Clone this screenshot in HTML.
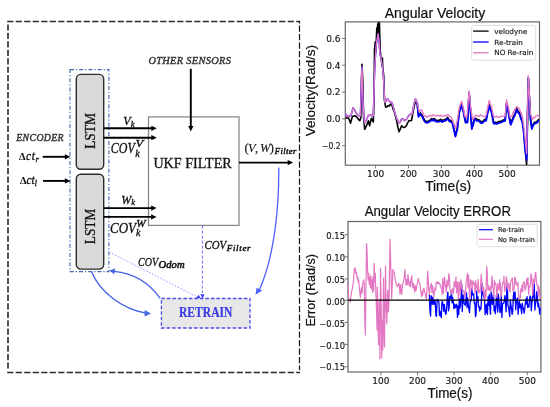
<!DOCTYPE html>
<html><head><meta charset="utf-8"><style>
html,body{margin:0;padding:0;background:#fff;}
svg{display:block;}
.sr{font-family:"Liberation Serif",serif;stroke:#111;stroke-width:0.3px;}
.si{font-family:"Liberation Serif",serif;font-style:italic;stroke:#111;stroke-width:0.3px;}
.sbi{font-family:"Liberation Serif",serif;font-style:italic;font-weight:bold;}
.sb{font-family:"Liberation Serif",serif;font-weight:bold;}
.ss{font-family:"Liberation Sans",sans-serif;stroke:#111;stroke-width:0.2px;}
.dv{font-family:"DejaVu Sans",sans-serif;stroke:#222;stroke-width:0.15px;}
text{fill:#111;}
.blue{fill:#3a3ae8;stroke:#3a3ae8;stroke-width:0.2px;}
</style></head><body>
<svg width="550" height="407" viewBox="0 0 550 407">
<defs>
<clipPath id="c1"><rect x="345.3" y="21.9" width="194.2" height="143.29999999999998"/></clipPath>
<clipPath id="c2"><rect x="348.0" y="221.5" width="192.89999999999998" height="150.5"/></clipPath>
</defs>
<rect width="550" height="407" fill="#fff"/>
<line x1="7.2" y1="21.6" x2="300" y2="21.6" stroke="#2a2a2a" stroke-width="1.5" stroke-dasharray="6.2 2.3"/>
<line x1="7.2" y1="372.6" x2="300" y2="372.6" stroke="#2a2a2a" stroke-width="1.5" stroke-dasharray="6.2 2.3"/>
<line x1="8" y1="24.4" x2="8" y2="370" stroke="#4a4a4a" stroke-width="1.9" stroke-dasharray="6.2 2.25"/>
<line x1="299.5" y1="21" x2="299.5" y2="23.6" stroke="#111" stroke-width="1.2"/>
<line x1="299.5" y1="25.5" x2="299.5" y2="370" stroke="#111" stroke-width="1.2" stroke-dasharray="6.2 2.3"/>
<rect x="70" y="69.6" width="38.9" height="202" fill="none" stroke="#4566b2" stroke-width="1.1" stroke-dasharray="4 2 1.2 2"/>
<rect x="76.3" y="74.4" width="27.4" height="94.8" rx="4.5" fill="#d9d9d9" stroke="#2b2b2b" stroke-width="1.4"/>
<rect x="76.3" y="174.3" width="27.4" height="94.8" rx="4.5" fill="#d9d9d9" stroke="#2b2b2b" stroke-width="1.4"/>
<text class="sr" transform="translate(95.4,131) rotate(-90)" text-anchor="middle" font-size="14" textLength="35.7" lengthAdjust="spacingAndGlyphs">LSTM</text>
<text class="sr" transform="translate(95.4,226.5) rotate(-90)" text-anchor="middle" font-size="14" textLength="35.4" lengthAdjust="spacingAndGlyphs">LSTM</text>
<rect x="148.5" y="116.9" width="90.5" height="108.5" fill="#fff" stroke="#858585" stroke-width="1.25"/>
<text class="sr" x="153.4" y="168.2" font-size="15" textLength="78.4" lengthAdjust="spacingAndGlyphs">UKF FILTER</text>
<line x1="103.5" y1="128.3" x2="151.8" y2="128.3" stroke="#000" stroke-width="1.9"/>
<polygon points="156.8,128.3 151.3,125.70000000000002 151.3,130.9" fill="#000"/>
<line x1="103.5" y1="137.7" x2="151.8" y2="137.7" stroke="#000" stroke-width="1.9"/>
<polygon points="156.8,137.7 151.3,135.1 151.3,140.29999999999998" fill="#000"/>
<line x1="103.5" y1="208.1" x2="151.6" y2="208.1" stroke="#000" stroke-width="1.9"/>
<polygon points="156.6,208.1 151.1,205.5 151.1,210.7" fill="#000"/>
<line x1="103.5" y1="216.9" x2="151.6" y2="216.9" stroke="#000" stroke-width="1.9"/>
<polygon points="156.6,216.9 151.1,214.3 151.1,219.5" fill="#000"/>
<line x1="42.7" y1="156.8" x2="65.4" y2="156.8" stroke="#000" stroke-width="1.9"/>
<polygon points="70.4,156.8 64.9,154.20000000000002 64.9,159.4" fill="#000"/>
<line x1="43.0" y1="180.9" x2="65.4" y2="180.9" stroke="#000" stroke-width="1.9"/>
<polygon points="70.4,180.9 64.9,178.3 64.9,183.5" fill="#000"/>
<line x1="190.8" y1="68.8" x2="190.8" y2="126.60000000000001" stroke="#000" stroke-width="1.9"/>
<polygon points="190.8,131.4 188.20000000000002,126.10000000000001 193.4,126.10000000000001" fill="#000"/>
<line x1="239" y1="162.6" x2="288.2" y2="162.6" stroke="#000" stroke-width="1.9"/>
<polygon points="293.2,162.6 287.7,160.0 287.7,165.2" fill="#000"/>
<text class="si" x="148.4" y="63.7" font-size="10.3" textLength="82.4" lengthAdjust="spacing" style="fill:#333;stroke:#333;stroke-width:0.4px">OTHER SENSORS</text>
<text class="si" x="16.2" y="140.5" font-size="9.8" textLength="47.4" lengthAdjust="spacing" style="fill:#333;stroke:#333;stroke-width:0.4px">ENCODER</text>
<text class="sb" x="19" y="160.4" font-size="10.5" textLength="20" lengthAdjust="spacing">Δ<tspan class="si" font-weight="normal" font-size="11.5">ct</tspan><tspan class="si" font-weight="normal" font-size="9" dy="1.8">r</tspan></text>
<text class="sb" x="20" y="183.6" font-size="10.5" textLength="17" lengthAdjust="spacing">Δ<tspan class="si" font-weight="normal" font-size="11.5">ct</tspan><tspan class="si" font-weight="normal" font-size="9" dy="2.2">l</tspan></text>
<text class="si" x="123.3" y="124.9" font-size="12">V<tspan font-size="8.5" dy="1.8">k</tspan></text>
<text class="si" x="121.2" y="203.6" font-size="12">W<tspan font-size="8.5" dy="1.8">k</tspan></text>
<text class="si" x="110.8" y="153.2" font-size="14.5" textLength="24" lengthAdjust="spacingAndGlyphs">COV</text>
<text class="si" x="135.6" y="147.2" font-size="9.5" textLength="7.8" lengthAdjust="spacingAndGlyphs">V</text>
<text class="si" x="135.2" y="156.6" font-size="10">k</text>
<text class="si" x="110" y="232.5" font-size="14.3" textLength="26" lengthAdjust="spacingAndGlyphs">COV</text>
<text class="si" x="136.2" y="227.2" font-size="9.5" textLength="9.4" lengthAdjust="spacingAndGlyphs">W</text>
<text class="si" x="135.9" y="236" font-size="10">k</text>
<text class="sr" x="244.6" y="152.4" font-size="12.5" textLength="29.4" lengthAdjust="spacing" style="stroke-width:0.15px">(<tspan class="si" style="stroke-width:0.15px">V</tspan>, <tspan class="si" style="stroke-width:0.15px">W</tspan>)</text>
<text class="si" x="274.8" y="153.7" font-size="8.6" textLength="21.5" lengthAdjust="spacing" style="stroke-width:0.45px">Filter</text>
<text class="si" x="204.5" y="248.5" font-size="12.5" textLength="21.7" lengthAdjust="spacingAndGlyphs">COV</text>
<text class="si" x="226.8" y="251.1" font-size="9" textLength="23.8" lengthAdjust="spacing" style="stroke-width:0.45px">Filter</text>
<text class="si" x="138" y="266" font-size="12" textLength="20" lengthAdjust="spacingAndGlyphs">COV</text>
<text class="si" x="158.6" y="268.2" font-size="9.6" textLength="26" lengthAdjust="spacingAndGlyphs" style="stroke-width:0.5px">Odom</text>
<line x1="202.4" y1="225.6" x2="202.4" y2="293" stroke="#6a6aff" stroke-width="1" stroke-dasharray="3 2"/>
<polygon points="202.5,298.6 200.4,294.2 204.6,294.2" fill="#3a3af0"/>
<line x1="109.2" y1="252" x2="195.5" y2="296.1" stroke="#8a8aff" stroke-width="0.9" stroke-dasharray="1.6 1.6"/>
<polygon points="195.6,298.6 198.8,294.8 200.6,298.6" fill="#3a3af0"/>
<rect x="161.4" y="298.5" width="88.6" height="29.5" fill="#e7e7e7" stroke="#4b4bf0" stroke-width="1.3" stroke-dasharray="3.5 2"/>
<text class="sb blue" x="179" y="317.4" font-size="14" textLength="53.4" lengthAdjust="spacingAndGlyphs">RETRAIN</text>
<path d="M91.7,272 C100,292 122,309 146,313.2" fill="none" stroke="#4264e4" stroke-width="1.35"/>
<polygon points="151,313.6 144.6,310 144.6,316.6" fill="#4466e0"/>
<path d="M160.2,298.3 C148,281 132,273 114,271.3" fill="none" stroke="#4264e4" stroke-width="1.35"/>
<polygon points="109.2,270.5 115.1,268.6 114.3,274.2" fill="#4466e0"/>
<path d="M278.8,167.4 C279,205 275,255 259.5,289.5" fill="none" stroke="#5060ff" stroke-width="1.3"/>
<polygon points="255.5,294.8 256.6,287.8 262.2,290.6" fill="#5060ff"/>
<text class="ss" x="435" y="17.8" font-size="14" text-anchor="middle" textLength="100.5" lengthAdjust="spacingAndGlyphs">Angular Velocity</text>
<rect x="345.3" y="21.9" width="194.2" height="143.29999999999998" fill="#fff" stroke="#666" stroke-width="1.2"/>
<line x1="342.1" y1="145.7" x2="345.3" y2="145.7" stroke="#555" stroke-width="0.8"/>
<text class="dv" x="340.6" y="149.0" font-size="9" text-anchor="end" textLength="18.6" lengthAdjust="spacingAndGlyphs">−0.2</text>
<line x1="342.1" y1="118.9" x2="345.3" y2="118.9" stroke="#555" stroke-width="0.8"/>
<text class="dv" x="340.6" y="122.2" font-size="9" text-anchor="end">0.0</text>
<line x1="342.1" y1="92.1" x2="345.3" y2="92.1" stroke="#555" stroke-width="0.8"/>
<text class="dv" x="340.6" y="95.4" font-size="9" text-anchor="end">0.2</text>
<line x1="342.1" y1="65.3" x2="345.3" y2="65.3" stroke="#555" stroke-width="0.8"/>
<text class="dv" x="340.6" y="68.6" font-size="9" text-anchor="end">0.4</text>
<line x1="342.1" y1="38.5" x2="345.3" y2="38.5" stroke="#555" stroke-width="0.8"/>
<text class="dv" x="340.6" y="41.8" font-size="9" text-anchor="end">0.6</text>
<line x1="375.6" y1="165.2" x2="375.6" y2="168.39999999999998" stroke="#555" stroke-width="0.8"/>
<text class="dv" x="375.6" y="177" font-size="9" text-anchor="middle">100</text>
<line x1="408.5" y1="165.2" x2="408.5" y2="168.39999999999998" stroke="#555" stroke-width="0.8"/>
<text class="dv" x="408.5" y="177" font-size="9" text-anchor="middle">200</text>
<line x1="441.4" y1="165.2" x2="441.4" y2="168.39999999999998" stroke="#555" stroke-width="0.8"/>
<text class="dv" x="441.4" y="177" font-size="9" text-anchor="middle">300</text>
<line x1="474.3" y1="165.2" x2="474.3" y2="168.39999999999998" stroke="#555" stroke-width="0.8"/>
<text class="dv" x="474.3" y="177" font-size="9" text-anchor="middle">400</text>
<line x1="507.2" y1="165.2" x2="507.2" y2="168.39999999999998" stroke="#555" stroke-width="0.8"/>
<text class="dv" x="507.2" y="177" font-size="9" text-anchor="middle">500</text>
<text class="ss" x="448.2" y="191.3" font-size="14" text-anchor="middle" textLength="46" lengthAdjust="spacingAndGlyphs">Time(s)</text>
<text class="ss" transform="translate(315.2,90.6) rotate(-90)" font-size="13" text-anchor="middle" textLength="91.4" lengthAdjust="spacingAndGlyphs">Velocity(Rad/s)</text>
<g clip-path="url(#c1)">
<polyline points="345.5,118.3 347.1,117.8 348.7,118.3 350.5,123.2 352.4,116.4 353.6,116.2 354.8,115.8 356.1,116.5 357.3,117.7 358.6,119.4 359.8,120.7 360.8,118.0 361.9,64.2 362.8,80.0 363.6,118.0 364.7,129.3 366.5,125.7 368.4,120.7 369.6,125.7 371.4,118.3 373.3,122.0 374.0,100.0 374.5,49.5 375.2,42.0 375.6,52.0 376.3,40.0 376.8,28.0 377.3,36.0 377.7,24.0 378.2,33.0 378.6,22.5 379.0,30.0 379.4,23.0 379.7,34.0 380.2,50.0 380.8,56.8 381.4,58.0 381.9,66.0 382.4,58.0 382.8,68.0 383.7,75.2 384.5,100.0 385.6,107.2 386.8,107.0 388.1,105.6 389.3,106.0 390.5,104.2 391.7,104.1 392.9,108.6 394.2,111.5 395.4,115.8 396.6,120.7 397.9,127.4 399.1,131.8 400.4,128.7 401.6,125.7 403.1,127.2 404.6,127.5 406.4,125.6 407.6,123.0 408.9,120.5 410.2,120.8 411.5,120.5 412.7,114.2 414.0,107.2 415.3,101.5 417.2,104.0 418.5,115.5 420.4,112.9 422.3,115.5 423.6,118.2 424.8,120.5 426.4,121.5 428.0,121.2 429.3,120.4 430.5,119.9 431.8,118.6 433.1,119.3 434.4,118.6 435.6,120.2 436.9,120.3 438.2,120.5 439.5,120.0 440.7,119.4 442.0,120.8 443.2,120.0 444.5,119.9 446.1,119.0 447.7,117.4 449.0,119.6 450.3,120.5 452.2,121.2 454.1,129.5 455.4,135.2 457.3,128.2 459.2,111.6 460.4,107.9 461.7,103.4 463.6,111.6 465.5,121.2 467.5,121.2 469.1,92.3 470.5,110.0 471.8,127.7 473.1,123.7 474.5,118.2 475.7,118.4 476.8,119.6 478.0,119.5 479.2,119.9 480.4,121.3 481.5,121.8 482.7,121.6 483.8,120.2 485.0,119.5 486.1,119.5 487.7,111.5 489.3,104.5 490.5,108.8 491.6,111.4 493.6,122.3 495.0,122.2 496.3,122.5 497.7,122.3 499.1,121.5 500.4,121.4 501.8,120.9 502.9,120.2 504.1,119.7 505.2,119.5 506.6,102.5 508.4,111.4 509.5,117.7 510.7,123.6 512.0,120.4 513.4,116.8 514.5,114.8 515.7,111.7 516.8,108.6 518.1,111.4 519.5,112.7 520.9,117.4 522.3,120.9 523.6,130.0 525.1,148.2 526.6,164.6 528.3,77.4 529.4,98.1 530.5,118.2 531.8,127.7 533.1,124.4 534.5,122.3 535.9,122.0 537.2,121.3 538.6,119.5 539.2,119.5" fill="none" stroke="#000" stroke-width="1.6" stroke-linejoin="round"/>
<polyline points="345.5,113.4 346.2,116.4 347.4,116.3 348.7,115.8 350.5,116.4 351.8,112.5 353.0,107.8 354.8,110.3 356.7,114.0 358.5,115.8 360.4,115.8 361.9,67.0 363.0,100.0 363.6,115.0 364.7,123.2 366.5,119.5 368.4,115.2 369.6,115.4 370.8,114.6 372.1,116.0 373.3,115.8 374.5,75.0 375.4,56.8 376.3,44.0 378.1,33.8 379.0,40.3 380.0,55.0 380.9,56.8 382.8,69.7 383.7,80.8 384.5,100.0 385.0,102.3 386.2,100.9 387.4,98.6 389.3,101.0 390.5,102.4 391.7,102.3 392.9,105.6 394.2,110.4 395.4,114.6 396.6,118.3 397.9,120.6 399.1,123.2 400.4,121.8 401.6,118.9 403.1,119.1 404.6,120.7 406.4,119.3 407.9,117.0 409.5,114.8 410.8,114.0 412.1,114.2 414.0,104.0 415.5,98.9 417.2,102.7" fill="none" stroke="#0000ff" stroke-width="1.5" stroke-linejoin="round"/>
<polyline points="417.2,102.7 418.5,116.8 420.4,114.2 422.3,116.8 423.6,119.5 424.8,121.8 426.4,122.8 428.0,122.5 429.3,121.7 430.5,121.2 431.8,119.9 433.1,120.6 434.4,119.9 435.6,121.5 436.9,121.6 438.2,121.8 439.5,121.3 440.7,120.7 442.0,122.1 443.2,121.3 444.5,121.2 446.1,120.3 447.7,118.7 449.0,120.9 450.3,121.8 452.2,122.5 454.1,130.8 455.4,136.5 457.3,129.5 459.2,112.9 460.4,109.2 461.7,104.7 463.6,112.9 465.5,122.5 467.5,122.5 469.1,93.6 470.5,111.3 471.8,129.0 473.1,125.0 474.5,119.5 475.7,119.7 476.8,120.9 478.0,120.8 479.2,121.2 480.4,122.6 481.5,123.1 482.7,122.9 483.8,121.5 485.0,120.8 486.1,120.8 487.7,112.8 489.3,105.8 490.5,110.1 491.6,112.7 493.6,123.6 495.0,123.5 496.3,123.8 497.7,123.6 499.1,122.8 500.4,122.7 501.8,122.2 502.9,121.5 504.1,121.0 505.2,120.8 506.6,103.8 508.4,112.7 509.5,119.0 510.7,124.9 512.0,121.7 513.4,118.1 514.5,116.1 515.7,113.0 516.8,109.9 518.1,112.7 519.5,114.0 520.9,118.7 522.3,122.2 523.6,131.3 525.1,149.5 526.6,160.0 528.3,78.7 529.4,99.4 530.5,119.5 531.8,129.0 533.1,125.7 534.5,123.6 535.9,123.3 537.2,122.6 538.6,120.8 539.2,120.8" fill="none" stroke="#0000ff" stroke-width="1.8" stroke-linejoin="round"/>
<polyline points="345.5,113.4 346.2,116.4 347.4,116.3 348.7,115.8 350.5,116.4 351.8,112.5 353.0,107.8 354.8,110.3 356.7,114.0 358.5,115.8 360.4,115.8 361.9,67.0 363.0,100.0 363.6,115.0 364.7,123.2 366.5,119.5 368.4,115.2 369.6,115.4 370.8,114.6 372.1,116.0 373.3,115.8 374.5,75.0 375.4,56.8 376.3,44.0 378.1,33.8 379.0,40.3 380.0,55.0 380.9,56.8 382.8,69.7 383.7,80.8 384.5,100.0 385.0,102.3 386.2,100.9 387.4,98.6 389.3,101.0 390.5,102.4 391.7,102.3 392.9,105.6 394.2,110.4 395.4,114.6 396.6,118.3 397.9,120.6 399.1,123.2 400.4,121.8 401.6,118.9 403.1,119.1 404.6,120.7 406.4,119.3 407.9,117.0 409.5,114.8 410.8,114.0 412.1,114.2 414.0,104.0 415.5,98.9 417.2,102.7 419.1,111.6 420.4,110.7 421.6,109.7 422.9,113.0 424.2,116.1 425.4,115.9 426.7,117.4 428.0,116.2 429.3,116.1 430.6,115.3 431.8,116.0 433.1,114.8 434.4,115.9 435.6,116.1 436.9,115.2 438.2,115.5 439.5,116.2 440.7,115.2 442.0,116.1 443.3,116.3 444.5,115.4 445.8,116.1 447.1,114.6 448.4,114.8 449.6,116.4 450.9,116.7 452.2,119.4 453.5,123.1 455.4,128.2 457.3,120.5 459.2,107.8 460.4,104.1 461.7,101.5 463.6,109.1 464.9,116.7 466.8,117.4 468.0,105.0 469.1,90.9 470.5,105.9 472.5,119.5 473.9,118.2 475.2,115.5 476.6,115.4 478.0,116.1 479.4,116.3 480.7,114.8 481.8,115.5 483.0,116.5 484.1,116.8 486.1,115.5 487.7,107.5 489.3,100.5 490.5,104.7 491.6,107.3 493.6,116.8 495.0,116.8 496.4,116.1 497.5,117.2 498.7,117.3 499.8,116.8 500.9,116.2 502.1,116.1 503.2,116.1 505.2,116.1 506.6,99.8 508.4,107.3 510.0,116.8 512.0,116.1 513.4,112.1 514.8,109.3 516.8,106.6 518.1,107.3 519.5,109.3 520.9,112.3 522.3,116.8 523.6,125.0 525.1,138.9 526.6,153.5 528.3,76.0 529.4,95.2 530.5,114.0 532.5,119.5 533.6,117.5 534.8,117.6 535.9,116.1 537.2,115.5 538.6,115.5 539.2,115.5" fill="none" stroke="#e377c2" stroke-width="1.4" stroke-linejoin="round"/>
</g>
<rect x="471.6" y="25.4" width="64.1" height="34.8" rx="2" fill="#fff" fill-opacity="0.85" stroke="#d5d5d5" stroke-width="0.8"/>
<line x1="473.1" y1="31.1" x2="488.6" y2="31.1" stroke="#000" stroke-width="1.3"/>
<text class="dv" x="494.3" y="33.7" font-size="7.2">velodyne</text>
<line x1="473.1" y1="42.0" x2="488.6" y2="42.0" stroke="#0000ff" stroke-width="1.3"/>
<text class="dv" x="494.3" y="44.6" font-size="7.2">Re-train</text>
<line x1="473.1" y1="52.8" x2="488.6" y2="52.8" stroke="#e377c2" stroke-width="1.3"/>
<text class="dv" x="494.3" y="55.4" font-size="7.2">NO Re-rain</text>
<text class="ss" x="437.8" y="216.3" font-size="14" text-anchor="middle" textLength="146.3" lengthAdjust="spacingAndGlyphs">Angular Velocity ERROR</text>
<rect x="348.0" y="221.5" width="192.89999999999998" height="150.5" fill="#fff" stroke="#666" stroke-width="1.2"/>
<line x1="344.8" y1="234.7" x2="348.0" y2="234.7" stroke="#555" stroke-width="0.8"/>
<text class="dv" x="345" y="239.2" font-size="8.4" text-anchor="end">0.15</text>
<line x1="344.8" y1="256.8" x2="348.0" y2="256.8" stroke="#555" stroke-width="0.8"/>
<text class="dv" x="345" y="261.3" font-size="8.4" text-anchor="end">0.10</text>
<line x1="344.8" y1="278.9" x2="348.0" y2="278.9" stroke="#555" stroke-width="0.8"/>
<text class="dv" x="345" y="283.4" font-size="8.4" text-anchor="end">0.05</text>
<line x1="344.8" y1="300.3" x2="348.0" y2="300.3" stroke="#555" stroke-width="0.8"/>
<text class="dv" x="345" y="304.8" font-size="8.4" text-anchor="end">0.00</text>
<line x1="344.8" y1="322.5" x2="348.0" y2="322.5" stroke="#555" stroke-width="0.8"/>
<text class="dv" x="345" y="326.6" font-size="8.4" text-anchor="end">−0.05</text>
<line x1="344.8" y1="344.4" x2="348.0" y2="344.4" stroke="#555" stroke-width="0.8"/>
<text class="dv" x="345" y="348.5" font-size="8.4" text-anchor="end">−0.10</text>
<line x1="344.8" y1="366.7" x2="348.0" y2="366.7" stroke="#555" stroke-width="0.8"/>
<text class="dv" x="345" y="370.1" font-size="8.4" text-anchor="end">−0.15</text>
<line x1="380.9" y1="372.0" x2="380.9" y2="375.2" stroke="#555" stroke-width="0.8"/>
<text class="dv" x="380.9" y="383.8" font-size="9" text-anchor="middle">100</text>
<line x1="417.5" y1="372.0" x2="417.5" y2="375.2" stroke="#555" stroke-width="0.8"/>
<text class="dv" x="417.5" y="383.8" font-size="9" text-anchor="middle">200</text>
<line x1="454.1" y1="372.0" x2="454.1" y2="375.2" stroke="#555" stroke-width="0.8"/>
<text class="dv" x="454.1" y="383.8" font-size="9" text-anchor="middle">300</text>
<line x1="490.7" y1="372.0" x2="490.7" y2="375.2" stroke="#555" stroke-width="0.8"/>
<text class="dv" x="490.7" y="383.8" font-size="9" text-anchor="middle">400</text>
<line x1="527.3" y1="372.0" x2="527.3" y2="375.2" stroke="#555" stroke-width="0.8"/>
<text class="dv" x="527.3" y="383.8" font-size="9" text-anchor="middle">500</text>
<text class="ss" x="450" y="398.3" font-size="14" text-anchor="middle" textLength="45" lengthAdjust="spacingAndGlyphs">Time(s)</text>
<text class="ss" transform="translate(315,290.3) rotate(-90)" font-size="13" text-anchor="middle" textLength="72.5" lengthAdjust="spacingAndGlyphs">Error (Rad/s)</text>
<g clip-path="url(#c2)">
<polyline points="429.3,294.5 429.9,310.0 430.6,316.0 431.1,295.7 431.7,297.0 432.3,304.4 432.9,297.3 433.5,303.4 434.1,304.5 434.7,299.8 435.3,303.1 435.9,315.8 436.5,316.3 437.1,299.1 437.7,300.9 438.3,300.2 438.9,302.6 439.5,315.5 440.1,311.5 440.7,315.5 441.3,317.7 441.9,301.8 442.5,301.7 443.1,304.7 443.7,311.2 444.3,304.5 444.9,309.5 445.5,314.1 446.1,313.9 446.7,307.2 447.3,296.5 447.9,292.2 448.5,310.8 449.1,307.1 449.7,296.4 450.3,298.3 450.9,297.9 451.5,290.7 452.1,302.9 452.7,297.5 453.3,301.2 453.9,308.7 454.5,304.1 455.1,307.9 455.7,307.3 456.3,304.2 456.9,305.8 457.5,317.4 458.1,305.8 458.7,314.6 459.3,299.0 459.9,308.2 460.5,304.8 461.1,295.5 461.7,284.5 462.3,311.6 462.9,295.5 463.5,295.2 464.1,303.6 464.7,304.3 465.3,305.4 465.9,300.4 466.5,292.9 467.1,307.6 467.7,297.8 468.3,304.8 468.9,309.2 469.5,312.7 470.1,302.8 470.7,300.7 471.3,299.6 471.9,288.6 472.5,294.9 473.1,294.0 473.7,294.0 474.3,303.3 474.9,303.0 475.5,316.7 476.1,314.4 476.7,291.0 477.3,301.5 477.9,296.7 478.5,306.8 479.1,306.2 479.7,311.0 480.3,307.6 480.9,309.2 481.5,299.5 482.1,284.0 482.7,291.2 483.3,295.4 483.9,297.9 484.5,297.1 485.1,314.6 485.7,305.2 486.3,312.7 486.9,304.0 487.5,314.4 488.1,296.8 488.7,305.4 489.3,294.6 489.9,307.1 490.5,314.2 491.1,291.9 491.7,295.5 492.3,304.3 492.9,301.0 493.5,294.2 494.1,310.9 494.7,306.4 495.3,313.6 495.9,306.0 496.5,294.7 497.1,300.1 497.7,312.0 498.3,294.0 498.9,299.2 499.5,308.6 500.1,312.6 500.7,309.3 501.3,295.4 501.9,317.5 502.5,304.4 503.1,303.4 503.7,303.3 504.3,300.8 504.9,295.7 505.5,301.4 506.1,311.7 506.7,292.1 507.3,284.4 507.9,305.4 508.5,307.3 509.1,311.1 509.7,316.5 510.3,300.0 510.9,304.6 511.5,308.7 512.1,314.3 512.7,311.6 513.3,296.8 513.9,292.0 514.5,298.4 515.1,292.2 515.7,309.8 516.3,301.3 516.9,299.5 517.5,298.0 518.1,314.3 518.7,306.8 519.3,301.3 519.9,307.6 520.5,304.1 521.1,309.2 521.7,313.7 522.3,303.4 522.9,307.6 523.5,308.8 524.1,313.1 524.7,309.2 525.3,303.7 525.9,299.0 526.5,304.0 527.1,296.6 527.7,307.4 528.3,305.2 528.9,307.2 529.5,299.3 530.1,296.0 530.7,296.9 531.3,310.7 531.9,302.7 532.5,299.7 533.1,289.7 533.7,297.7 534.3,284.0 534.9,310.0 535.5,303.1 536.1,302.0 536.7,291.7 537.3,294.4 537.9,306.7 538.5,303.0 539.1,307.8 539.7,314.2 540.3,307.8" fill="none" stroke="#0000ff" stroke-width="1.3" stroke-linejoin="round"/>
<polyline points="348.2,282.1 348.4,297.6 349.3,298.8 350.4,302.1 351.0,295.4 351.5,292.1 352.1,289.9 352.6,286.6 353.2,283.3 353.8,276.6 354.3,268.9 355.1,267.8 355.7,273.3 356.5,272.2 357.1,278.8 357.6,276.6 358.2,282.1 358.7,279.9 359.3,287.7 359.8,292.1 360.4,297.6 361.0,291.0 361.5,287.7 362.1,293.2 362.6,284.4 363.2,282.1 363.7,279.9 364.3,285.5 364.8,320.0 365.3,335.0 365.9,293.2 366.5,243.5 367.0,250.0 367.6,271.1 368.1,279.9 368.7,273.3 369.3,284.4 369.8,277.7 370.4,287.7 370.9,275.5 371.5,288.8 372.0,279.9 372.6,292.1 373.1,276.6 373.7,291.0 374.2,263.3 374.8,282.1 375.3,273.3 375.9,293.0 376.5,310.0 377.1,330.0 377.4,287.0 378.0,325.0 378.6,345.0 379.2,300.0 379.9,359.0 380.5,268.0 381.1,300.0 381.7,358.0 382.3,320.0 382.8,350.0 383.5,278.0 384.0,330.0 384.5,347.0 385.0,300.0 385.5,266.0 386.2,310.0 386.8,324.0 387.4,300.0 387.8,290.0 388.4,312.0 389.1,299.0 390.0,239.3 390.9,269.4 391.7,298.7 392.9,269.4 394.3,272.9 395.5,281.5 397.2,286.6 399.0,283.2 400.0,294.3 400.6,284.5 401.2,291.9 401.8,294.3 402.5,284.5 403.1,283.3 403.7,279.6 404.3,277.1 404.9,269.7 405.5,278.3 406.1,285.7 406.8,279.6 407.4,284.5 408.0,274.7 408.6,279.6 409.2,285.7 409.8,282.0 410.4,286.9 411.1,279.6 411.7,275.9 412.3,283.3 412.9,288.2 413.5,283.3 414.1,286.9 414.7,291.9 415.4,285.7 416.0,290.6 416.6,288.2 417.2,283.3 417.8,280.8 418.4,278.3 419.0,282.0 419.7,283.3 420.3,286.9 420.9,290.6 421.5,296.8 422.1,291.9 422.7,295.5 423.3,289.4 424.0,288.2 424.6,291.9 425.2,293.1 425.8,296.8 426.4,299.2 427.0,289.4 427.6,271.0 428.3,279.6 428.9,290.6 429.5,294.3 430.1,286.9 430.7,285.7 431.3,283.3 432.0,292.5 432.6,285.6 433.2,292.1 433.8,297.7 434.4,291.8 435.0,287.7 435.6,290.4 436.2,282.2 436.8,283.7 437.4,281.8 438.0,283.6 438.6,282.3 439.2,283.9 439.8,283.3 440.4,286.3 441.0,286.8 441.6,289.3 442.2,294.4 442.8,278.0 443.4,293.1 444.0,284.4 444.6,277.3 445.2,283.8 445.8,287.4 446.4,292.3 447.0,280.0 447.6,286.6 448.2,285.4 448.8,273.6 449.4,277.0 450.0,289.6 450.6,292.3 451.2,294.5 451.8,291.0 452.4,289.3 453.0,288.3 453.6,293.5 454.2,281.3 454.8,284.6 455.4,287.0 456.0,276.9 456.6,292.7 457.2,281.8 457.8,286.8 458.4,299.0 459.0,281.9 459.6,283.1 460.2,295.1 460.8,279.7 461.4,282.6 462.0,289.5 462.6,290.1 463.2,290.8 463.8,290.3 464.4,296.4 465.0,294.7 465.6,290.3 466.2,281.3 466.8,278.8 467.4,273.1 468.0,287.2 468.6,275.1 469.2,292.0 469.8,298.3 470.4,279.9 471.0,280.0 471.6,282.9 472.2,290.4 472.8,280.8 473.4,283.8 474.0,282.1 474.6,285.0 475.2,293.6 475.8,280.7 476.4,285.9 477.0,288.7 477.6,290.9 478.2,279.3 478.8,292.8 479.4,290.8 480.0,292.4 480.6,285.8 481.2,274.4 481.8,280.9 482.4,291.0 483.0,287.0 483.6,287.4 484.2,299.0 484.8,299.0 485.4,289.5 486.0,297.2 486.6,266.7 487.2,271.1 487.8,289.7 488.4,285.5 489.0,290.2 489.6,289.9 490.2,286.5 490.8,290.7 491.4,286.2 492.0,276.0 492.6,286.3 493.2,289.1 493.8,297.5 494.4,280.1 495.0,284.7 495.6,283.0 496.2,286.2 496.8,297.5 497.4,289.7 498.0,283.3 498.6,287.3 499.2,290.4 499.8,279.7 500.4,284.7 501.0,297.0 501.6,293.2 502.2,286.0 502.8,282.6 503.4,283.1 504.0,276.2 504.6,291.3 505.2,289.3 505.8,286.1 506.4,276.7 507.0,280.4 507.6,289.1 508.2,287.8 508.8,283.3 509.4,289.8 510.0,292.2 510.6,281.8 511.2,281.0 511.8,278.6 512.4,278.1 513.0,290.8 513.6,290.5 514.2,287.7 514.8,277.4 515.4,277.8 516.0,284.2 516.6,283.2 517.2,285.8 517.8,282.0 518.4,291.4 519.0,299.0 519.6,299.0 520.2,298.4 520.8,288.8 521.4,292.0 522.0,285.1 522.6,291.5 523.2,283.8 523.8,281.8 524.4,281.8 525.0,290.4 525.6,288.7 526.2,286.5 526.8,278.6 527.4,284.6 528.0,277.7 528.6,294.6 529.2,286.6 529.8,287.1 530.4,284.0 531.0,273.9 531.6,275.2 532.2,285.9 532.8,295.1 533.4,279.2 534.0,280.2 534.6,283.5 535.2,273.0 535.8,272.6 536.4,281.6 537.0,285.0 537.6,284.7 538.2,295.9 538.8,286.6 539.4,289.8 540.0,298.7 540.6,297.5" fill="none" stroke="#e377c2" stroke-width="1.2" stroke-linejoin="round"/>
<line x1="348.0" y1="300.2" x2="540.9" y2="300.2" stroke="#000" stroke-width="1.3"/>
</g>
<rect x="477" y="224.3" width="60.3" height="22.4" rx="2" fill="#fff" fill-opacity="0.85" stroke="#d5d5d5" stroke-width="0.8"/>
<line x1="478.9" y1="229.7" x2="492.9" y2="229.7" stroke="#0000ff" stroke-width="1.2"/>
<text class="dv" x="497.9" y="232.1" font-size="6.6">Re-train</text>
<line x1="478.9" y1="239.3" x2="492.9" y2="239.3" stroke="#e377c2" stroke-width="1.2"/>
<text class="dv" x="497.9" y="241.7" font-size="6.6">No Re-train</text>
</svg>
</body></html>
